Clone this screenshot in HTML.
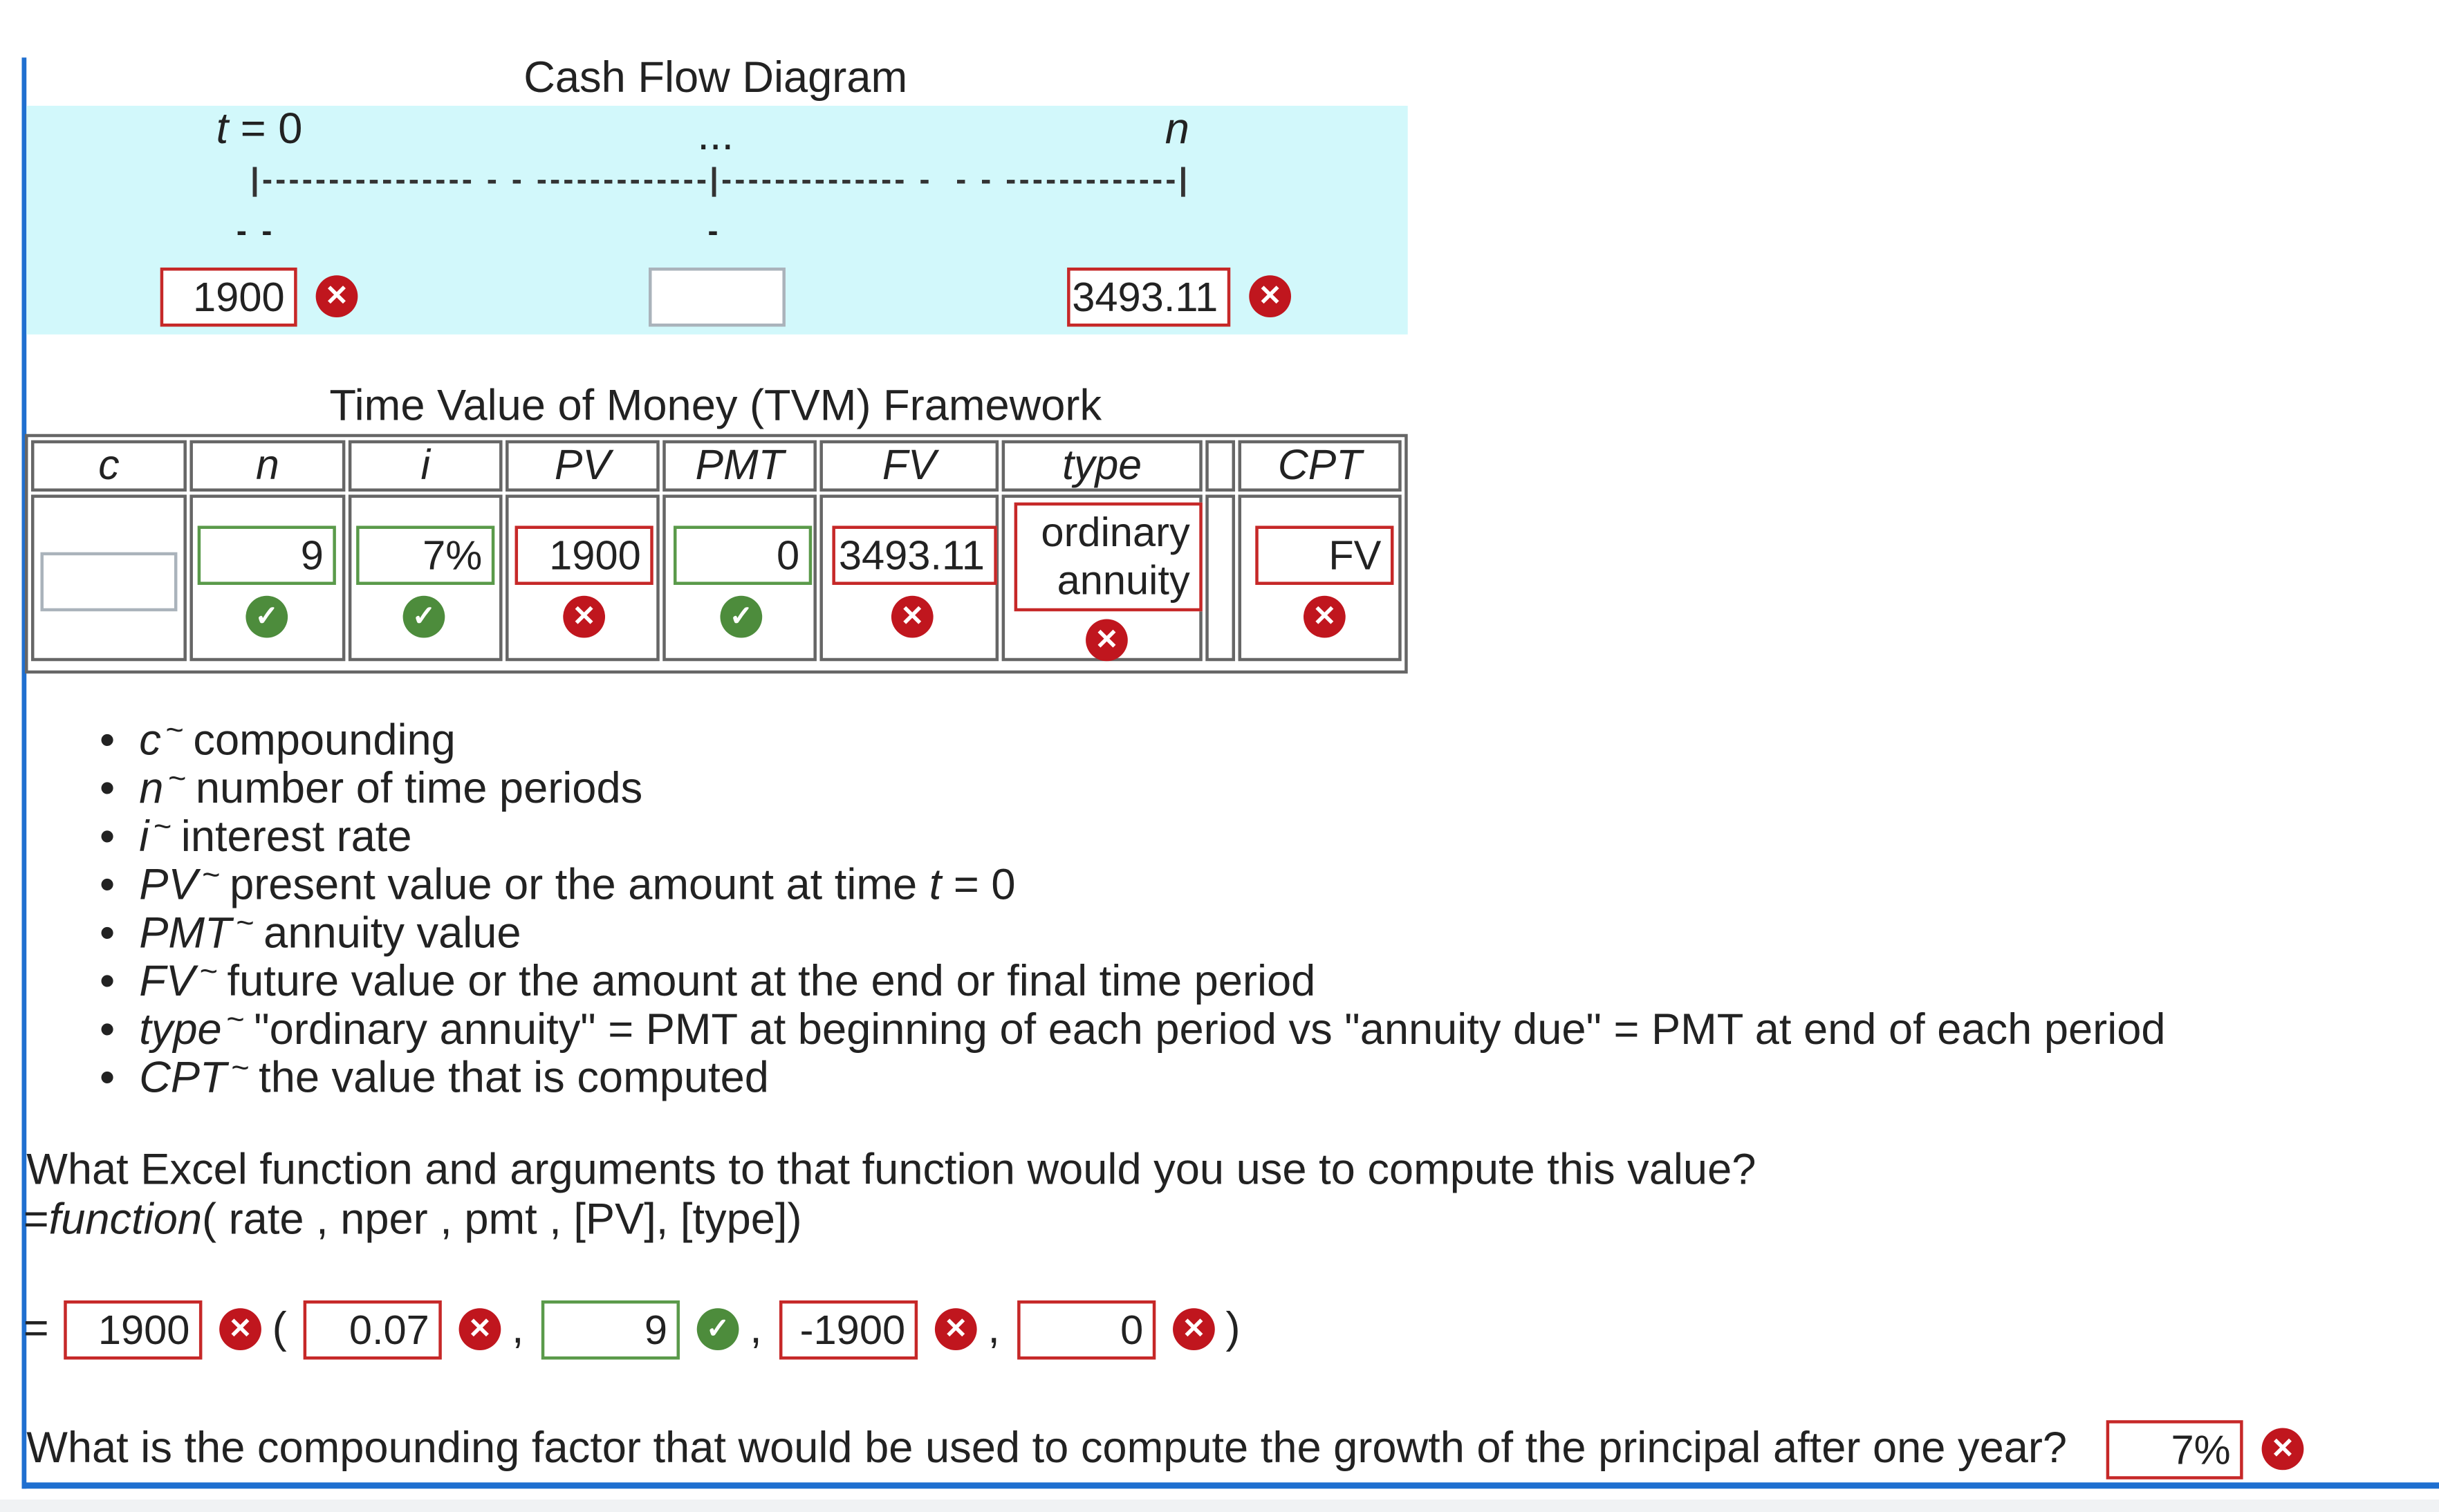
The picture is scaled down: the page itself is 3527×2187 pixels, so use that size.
<!DOCTYPE html>
<html><head><meta charset="utf-8"><style>
html,body{margin:0;padding:0;background:#fff;overflow:hidden}
body{width:3527px;height:2187px;position:relative}
#w{position:absolute;left:0;top:0;width:1568px;height:972px;transform:scale(2.2494,2.25);transform-origin:0 0;font-family:"Liberation Sans",sans-serif;color:#222;font-size:28.1px}
.a{position:absolute}
.t{position:absolute;line-height:30px;height:30px;white-space:nowrap}
.c{text-align:center}
.box{position:absolute;box-sizing:border-box;border:2px solid #c62828;background:#fff;text-align:right;padding-right:6px;line-height:34px;font-size:26.5px;white-space:nowrap}
.g{border-color:#5a9a4a}
.e{border-color:#aab3bb}
.x,.k{position:absolute;width:27px;height:27px;border-radius:50%;color:#fff;text-align:center;line-height:27px;font-size:18px;font-weight:bold}
.x{background:#c0161e}
.k{background:#4d8c3c}
i{font-style:italic}
.s{font-size:20px;position:relative;top:-9px;margin:0 6px 0 3px}
.bl div{height:31px;line-height:31px}
td{border:2px solid #666;padding:0;text-align:center;font-style:italic;font-size:27px;line-height:27px}
</style></head><body><div id="w">
<div class="a" style="left:14px;top:37px;width:3px;height:920px;background:#1f6fd0"></div>
<div class="a" style="left:14px;top:953px;width:1554px;height:4px;background:#1f6fd0"></div>
<div class="a" style="left:0;top:964px;width:1568px;height:8px;background:#f0f2f4"></div>

<div class="t c" style="left:260px;width:400px;top:35px">Cash Flow Diagram</div>
<div class="a" style="left:17px;top:68px;width:888px;height:147px;background:#d2f8fb"></div>
<div class="t" style="left:139px;top:68px"><i>t</i> = 0</div>
<div class="t c" style="left:440px;width:40px;top:72px">...</div>
<div class="t" style="left:749px;top:68px"><i>n</i></div>
<div class="t" style="left:161px;top:101px;font-size:20px;letter-spacing:1.9px;font-weight:bold;color:#333">|---------------- - - -------------|-------------- -&nbsp; - - -------------|</div>
<div class="t" style="left:152px;top:134px;font-size:20px;font-weight:bold;letter-spacing:2px">- -</div>
<div class="t" style="left:455px;top:134px;font-size:20px;font-weight:bold">-</div>
<div class="box" style="left:103px;top:172px;width:88px;height:38px">1900</div>
<div class="x" style="left:203px;top:177px">✕</div>
<div class="box e" style="left:417px;top:172px;width:88px;height:38px"></div>
<div class="box" style="left:686px;top:172px;width:105px;height:38px">3493.11</div>
<div class="x" style="left:803px;top:177px">✕</div>

<div class="t c" style="left:110px;width:700px;top:246px">Time Value of Money (TVM) Framework</div>
<div class="a" style="left:16px;top:279px;width:889px;height:154px;box-sizing:border-box;border:2px solid #666"></div>
<table class="a" style="left:18px;top:281px;border-collapse:separate;border-spacing:2px;width:885px">
<tr style="height:33px"><td style="width:96px">c</td><td style="width:96px">n</td><td style="width:95px">i</td><td style="width:95px">PV</td><td style="width:95px">PMT</td><td style="width:111px">FV</td><td style="width:125px">type</td><td style="width:15px"></td><td>CPT</td></tr>
<tr style="height:107px"><td></td><td></td><td></td><td></td><td></td><td></td><td></td><td></td><td></td></tr>
</table>
<div class="box e" style="left:26px;top:355px;width:88px;height:38px"></div>
<div class="box g" style="left:127px;top:338px;width:89px;height:38px">9</div>
<div class="k" style="left:158px;top:383px">✓</div>
<div class="box g" style="left:229px;top:338px;width:89px;height:38px">7%</div>
<div class="k" style="left:259px;top:383px">✓</div>
<div class="box" style="left:331px;top:338px;width:89px;height:38px">1900</div>
<div class="x" style="left:362px;top:383px">✕</div>
<div class="box g" style="left:433px;top:338px;width:89px;height:38px">0</div>
<div class="k" style="left:463px;top:383px">✓</div>
<div class="box" style="left:535px;top:338px;width:106px;height:38px">3493.11</div>
<div class="x" style="left:573px;top:383px">✕</div>
<div class="box" style="left:652px;top:323px;width:121px;height:70px;line-height:31px;padding-top:2px">ordinary<br>annuity</div>
<div class="x" style="left:698px;top:398px">✕</div>
<div class="box" style="left:807px;top:338px;width:89px;height:38px">FV</div>
<div class="x" style="left:838px;top:383px">✕</div>

<div class="a bl" style="left:64px;top:460px;white-space:nowrap">
<div>•&nbsp;&nbsp;<i>c</i><span class="s">~</span>compounding</div>
<div>•&nbsp;&nbsp;<i>n</i><span class="s">~</span>number of time periods</div>
<div>•&nbsp;&nbsp;<i>i</i><span class="s">~</span>interest rate</div>
<div>•&nbsp;&nbsp;<i>PV</i><span class="s">~</span>present value or the amount at time <i>t</i> = 0</div>
<div>•&nbsp;&nbsp;<i>PMT</i><span class="s">~</span>annuity value</div>
<div>•&nbsp;&nbsp;<i>FV</i><span class="s">~</span>future value or the amount at the end or final time period</div>
<div>•&nbsp;&nbsp;<i>type</i><span class="s">~</span>"ordinary annuity" = PMT at beginning of each period vs "annuity due" = PMT at end of each period</div>
<div>•&nbsp;&nbsp;<i>CPT</i><span class="s">~</span>the value that is computed</div>
</div>

<div class="t" style="left:17px;top:737px">What Excel function and arguments to that function would you use to compute this value?</div>
<div class="t" style="left:15px;top:769px">=<i>function</i>( rate , nper , pmt , [PV], [type])</div>

<div class="t" style="left:15px;top:839px">=</div>
<div class="box" style="left:41px;top:836px;width:89px;height:38px">1900</div>
<div class="x" style="left:141px;top:841px">✕</div>
<div class="t" style="left:175px;top:839px">(</div>
<div class="box" style="left:195px;top:836px;width:89px;height:38px">0.07</div>
<div class="x" style="left:295px;top:841px">✕</div>
<div class="t" style="left:329px;top:839px">,</div>
<div class="box g" style="left:348px;top:836px;width:89px;height:38px">9</div>
<div class="k" style="left:448px;top:841px">✓</div>
<div class="t" style="left:482px;top:839px">,</div>
<div class="box" style="left:501px;top:836px;width:89px;height:38px">-1900</div>
<div class="x" style="left:601px;top:841px">✕</div>
<div class="t" style="left:635px;top:839px">,</div>
<div class="box" style="left:654px;top:836px;width:89px;height:38px">0</div>
<div class="x" style="left:754px;top:841px">✕</div>
<div class="t" style="left:788px;top:839px">)</div>

<div class="t" style="left:17px;top:916px">What is the compounding factor that would be used to compute the growth of the principal after one year?</div>
<div class="box" style="left:1354px;top:913px;width:88px;height:38px">7%</div>
<div class="x" style="left:1454px;top:918px">✕</div>
</div></body></html>
